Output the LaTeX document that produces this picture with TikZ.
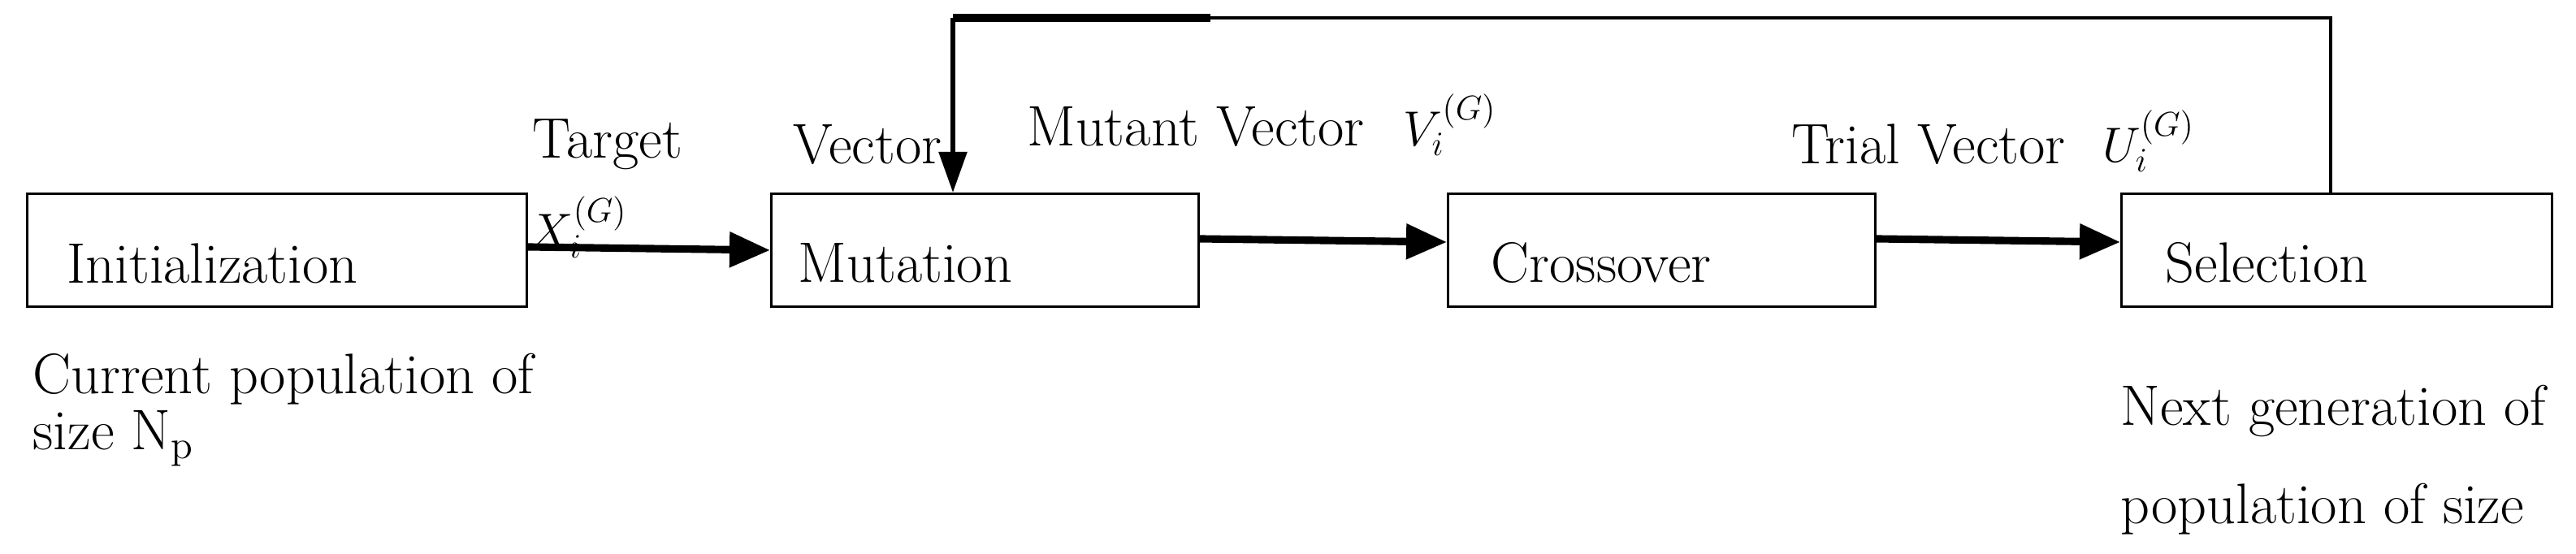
\documentclass[tikz,border=0pt]{standalone}
\usetikzlibrary{arrows.meta}
\begin{document}
\begin{tikzpicture}[
  box/.style={draw, line width=0.9pt, minimum height=1.39cm, text depth=0pt, align=left, inner sep=0pt},
  txt/.style={font=\fontsize{20}{24}\selectfont, inner sep=0pt},
  sym/.style={font=\fontsize{17}{20}\selectfont, inner sep=0pt},
  flow/.style={-{Triangle[length=0.5cm,width=0.42cm]}, line width=2.6pt}]
\useasboundingbox (0,0) rectangle (31.71,6.82);
\node[box, minimum width=6.15cm, anchor=north west] (Init) at (0.32,4.45) {};
\node[box, minimum width=5.26cm, anchor=north west] (Mut) at (9.48,4.45) {};
\node[box, minimum width=5.26cm, anchor=north west] (Cross) at (17.81,4.45) {};
\node[box, minimum width=5.30cm, anchor=north west] (Sel) at (26.10,4.45) {};
\node[txt, anchor=west] at (0.82,3.58) {Initialization};
\node[txt, anchor=west] at (9.82,3.58) {Mutation};
\node[txt, anchor=west] at (18.35,3.58) {Crossover};
\node[txt, anchor=west] at (26.65,3.58) {Selection};
\draw[flow] (Init.east |- 0,3.78) -- (Mut.west |- 0,3.74);
\draw[flow] (Mut.east |- 0,3.88) -- (Cross.west |- 0,3.84);
\draw[flow] (Cross.east |- 0,3.88) -- (Sel.west |- 0,3.84);
\coordinate (TopR) at (28.69,6.60);
\coordinate (TopL) at (11.73,6.60);
\draw[line width=1.2pt] (Sel.north -| TopR) -- (TopR) -- (TopL);
\draw[line width=2.6pt] (14.9,6.60) -- (TopL);
\draw[-{Triangle[length=0.5cm,width=0.34cm]}, line width=1.6pt] (TopL) -- (Mut.north -| TopL);
\node[txt] at (7.48,5.04) {Target};
\node[txt] at (10.68,5.04) {Vector};
\node[sym] at (7.12,4.02) {$X_i^{(G)}$};
\node[txt] at (14.72,5.26) {Mutant Vector};
\node[sym] at (17.85,5.28) {$V_i^{(G)}$};
\node[txt] at (23.74,5.04) {Trial Vector};
\node[sym] at (26.45,5.08) {$U_i^{(G)}$};
\node[txt, anchor=west] at (0.40,2.15) {Current\ population\ of};
\node[txt, anchor=west] at (0.40,1.42) {size N\textsubscript{p}};
\node[txt, anchor=west] at (26.10,1.76) {Next generation of};
\node[txt, anchor=west] at (26.10,0.55) {population of size};
\end{tikzpicture}
\end{document}
